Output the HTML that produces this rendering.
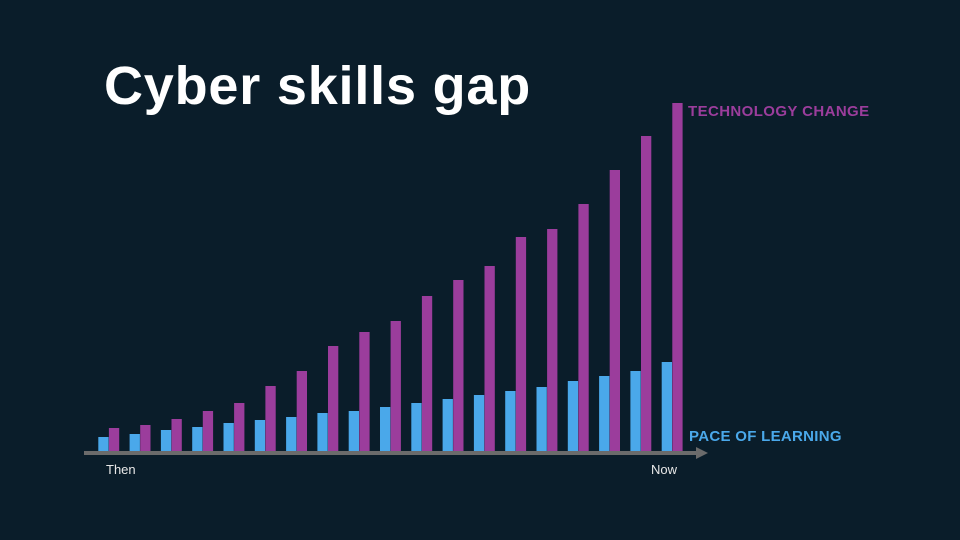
<!DOCTYPE html>
<html><head><meta charset="utf-8"><style>
html,body{margin:0;padding:0;background:#0a1d2a;}
body{width:960px;height:540px;overflow:hidden;position:relative;font-family:"Liberation Sans",sans-serif;}
</style></head><body>
<svg width="960" height="540" viewBox="0 0 960 540" style="position:absolute;left:0;top:0">
<rect width="960" height="540" fill="#0a1d2a"/>
<text x="104" y="104" fill="#ffffff" font-size="54" font-weight="bold" letter-spacing="0.8" font-family="Liberation Sans, sans-serif">Cyber skills gap</text>
<g id="bars"></g>
<line x1="84" y1="453" x2="698" y2="453" stroke="#6b6b6b" stroke-width="4"/>
<polygon points="696,447 708,453 696,459" fill="#6b6b6b"/>
<text x="106" y="474" fill="#e8e8e8" font-size="13">Then</text>
<text x="651" y="474" fill="#e8e8e8" font-size="13">Now</text>
<text x="688" y="116" fill="#9b3d9c" font-size="15" font-weight="bold" letter-spacing="0.4">TECHNOLOGY CHANGE</text>
<text x="689" y="441" fill="#4aa8ea" font-size="15" font-weight="bold" letter-spacing="0.3">PACE OF LEARNING</text>
</svg>
<script>
var b=[437,434,430,427,423,420,417,413,411,407,403,399,395,391,387,381,376,371,362];
var p=[428,425,419,411,403,386,371,346,332,321,296,280,266,237,229,204,170,136,103];
var g=document.getElementById('bars'),s='';
for(var i=0;i<19;i++){var x=98.3+i*31.3;
s+='<rect x="'+x+'" y="'+b[i]+'" width="10.3" height="'+(451-b[i])+'" fill="#4aa8ea"/>';
s+='<rect x="'+(x+10.6)+'" y="'+p[i]+'" width="10.3" height="'+(451-p[i])+'" fill="#9b3d9c"/>';}
g.innerHTML=s;
</script>
</body></html>
